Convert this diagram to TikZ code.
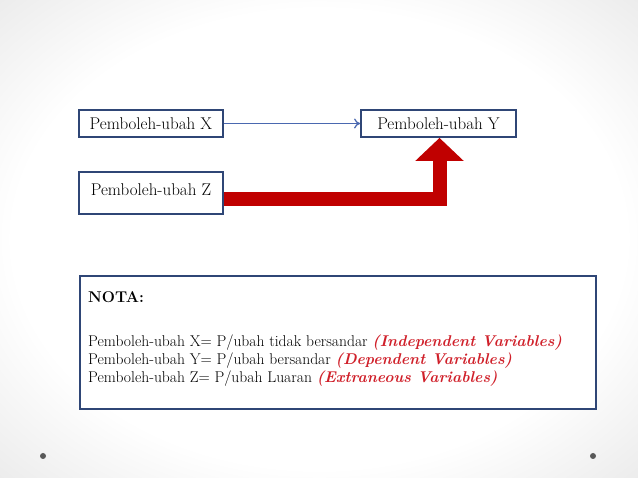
\documentclass[tikz,border=0pt]{standalone}
\usetikzlibrary{arrows.meta,calc}
\definecolor{boxblue}{HTML}{2F4676}
\definecolor{arrblue}{HTML}{4A68B0}
\definecolor{fatred}{HTML}{C00000}
\definecolor{notered}{HTML}{D0202A}
\pgfdeclareradialshading{slidebg}{\pgfpoint{0bp}{0bp}}{%
  color(0bp)=(white); color(24bp)=(white); color(50bp)=(black!17); color(72bp)=(black!24)}
\begin{document}
\begin{tikzpicture}[x=1pt,y=-1pt,
  varbox/.style={draw=boxblue,line width=1.8pt,fill=white,inner sep=0pt,
    font=\fontsize{17}{20}\selectfont},
  notetext/.style={anchor=west,inner sep=0pt,font=\fontsize{15.6}{18}\selectfont},
  thinarrow/.style={draw=arrblue,line width=1.2pt,-{To[length=6pt,width=10pt]}},
  fatarrow/.style={draw=fatred,line width=14pt,miter limit=10,
    -{Triangle[length=23pt,width=47pt]}},
  dot/.style={circle,fill=gray!70!black,inner sep=0pt,minimum size=6pt}]
\useasboundingbox (0,0) rectangle (638,478);
\shade[shading=slidebg] (0,0) rectangle (638,478);
\node[varbox,minimum width=144pt,minimum height=27pt] (X) at (151,123.5) {Pemboleh-ubah X};
\node[varbox,minimum width=155pt,minimum height=27pt] (Y) at (438.5,123.5) {Pemboleh-ubah Y};
\node[varbox,minimum width=144pt,minimum height=42pt,text depth=7pt] (Z) at (151,193) {Pemboleh-ubah Z};
\draw[thinarrow] (X.east) -- (Y.west);
\draw[fatarrow] ([yshift=-6pt]Z.east) -| ([xshift=1pt]Y.south);
\node[draw=boxblue,line width=1.8pt,fill=white,minimum width=516pt,minimum height=133pt,
  inner sep=0pt] (N) at (338,342.5) {};
\node[notetext,font=\fontsize{15.6}{18}\selectfont\bfseries] (T) at (88,297) {NOTA:};
\node[notetext] (L1) at (88,343)
  {Pemboleh-ubah X= P/ubah tidak bersandar \textcolor{notered}{\textbf{\textit{(Independent Variables)}}}};
\node[notetext] (L2) at (88,361)
  {Pemboleh-ubah Y= P/ubah bersandar \textcolor{notered}{\textbf{\textit{(Dependent Variables)}}}};
\node[notetext] (L3) at (88,379)
  {Pemboleh-ubah Z= P/ubah Luaran \textcolor{notered}{\textbf{\textit{(Extraneous Variables)}}}};
\node[dot] (d1) at (43,456) {};
\node[dot] (d2) at (593,456) {};
\end{tikzpicture}
\end{document}
